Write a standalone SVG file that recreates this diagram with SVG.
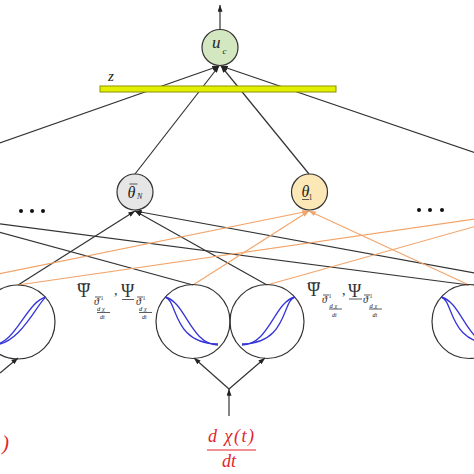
<svg xmlns="http://www.w3.org/2000/svg" width="474" height="474" viewBox="0 0 474 474">
<style>
.bk{stroke:#333;stroke-width:1.2;fill:none}
.or{stroke:#f2a46a;stroke-width:1.1;fill:none}
.nd{stroke:#333;stroke-width:1.2}
.cv{stroke:#3535d8;stroke-width:1.3;fill:none}
.m{font-family:"Liberation Serif","DejaVu Serif",serif;font-style:italic;fill:#222}
.g{font-family:"Liberation Serif","DejaVu Serif",serif;fill:#333}
.r{font-family:"Liberation Serif","DejaVu Serif",serif;font-style:italic;fill:#e3242b}
.bar{stroke:#333;stroke-width:0.8}
</style>
<defs>
<marker id="ab" viewBox="0 0 8 6" refX="8" refY="3" markerWidth="7" markerHeight="5" markerUnits="userSpaceOnUse" orient="auto"><path d="M0,0 L8,3 L0,6 z" fill="#222"/></marker>
<marker id="ao" viewBox="0 0 8 6" refX="8" refY="3" markerWidth="7" markerHeight="5" markerUnits="userSpaceOnUse" orient="auto"><path d="M0,0 L8,3 L0,6 z" fill="#f2a46a"/></marker>
</defs>
<rect width="474" height="474" fill="#fff"/>
<g id="connectors">
<line class="bk" x1="220" y1="29" x2="220" y2="5" marker-end="url(#ab)"/>
<line class="bk" x1="-100" y1="178" x2="219" y2="66" marker-end="url(#ab)"/>
<line class="bk" x1="135" y1="174" x2="219" y2="66" marker-end="url(#ab)"/>
<line class="bk" x1="309" y1="174" x2="221" y2="66" marker-end="url(#ab)"/>
<line class="bk" x1="540" y1="175" x2="221" y2="66" marker-end="url(#ab)"/>
<line class="bk" x1="18" y1="285" x2="135" y2="211" marker-end="url(#ab)"/>
<line class="bk" x1="267" y1="285" x2="135" y2="211" marker-end="url(#ab)"/>
<line class="bk" x1="541" y1="285" x2="135" y2="211" marker-end="url(#ab)"/>
<line class="bk" x1="193" y1="285" x2="-60" y2="216"/>
<line class="bk" x1="469" y1="285" x2="-60" y2="216"/>
<line class="or" x1="-56" y1="285" x2="309" y2="211" marker-end="url(#ao)"/>
<line class="or" x1="193" y1="285" x2="309" y2="211" marker-end="url(#ao)"/>
<line class="or" x1="469" y1="285" x2="309" y2="211" marker-end="url(#ao)"/>
<line class="or" x1="18" y1="285" x2="530" y2="211"/>
<line class="or" x1="267" y1="285" x2="530" y2="211"/>
<line class="bk" x1="229" y1="416" x2="229" y2="389" marker-end="url(#ab)"/>
<line class="bk" x1="229" y1="389" x2="194" y2="358" marker-end="url(#ab)"/>
<line class="bk" x1="229" y1="389" x2="265" y2="358" marker-end="url(#ab)"/>
<line class="bk" x1="0" y1="373" x2="18" y2="358" marker-end="url(#ab)"/>
</g>
<g id="z-bar">
<rect x="100" y="86" width="236" height="6" fill="#e2f000" stroke="#8f9200" stroke-width="1"/>
<text class="m" x="108" y="81" font-size="15">z</text>
</g>
<g id="uc">
<circle class="nd" cx="220" cy="47.5" r="18" fill="#d3e8c0"/>
<text class="m" x="212" y="48" font-size="17">u</text>
<text class="m" x="222.5" y="54" font-size="9">c</text>
</g>
<g id="thetaN">
<circle class="nd" cx="135" cy="192" r="18" fill="#e6e6e6"/>
<text class="m" x="127.5" y="198" font-size="16">θ</text>
<line class="bar" x1="129.5" y1="184" x2="137.5" y2="184"/>
<text class="m" x="137" y="199" font-size="8">N</text>
</g>
<g id="theta1">
<circle class="nd" cx="309.5" cy="192" r="18" fill="#fbe8b6"/>
<text class="m" x="301.5" y="197" font-size="16">θ</text>
<line class="bar" x1="302" y1="199.5" x2="309" y2="199.5"/>
<text class="g" x="308.5" y="200" font-size="8">1</text>
</g>
<g id="dots">
<circle cx="21" cy="211" r="2" fill="#111"/><circle cx="32" cy="211" r="2" fill="#111"/><circle cx="43" cy="211" r="2" fill="#111"/>
<circle cx="419" cy="210" r="2" fill="#111"/><circle cx="430" cy="210" r="2" fill="#111"/><circle cx="442" cy="210" r="2" fill="#111"/>
</g>
<g id="fuzzy-left">
<circle class="nd" cx="18" cy="322" r="37" fill="none"/>
<path class="cv" d="M-7,345 C16,344 26,302 46,297"/>
<path class="cv" d="M-7,345 C20,345 38,302 46,297"/>
</g>
<g id="fuzzy-mid-left">
<circle class="nd" cx="193" cy="321.5" r="37" fill="none"/>
<path class="cv" d="M165,297 C178,300 172,344 218,344"/>
<path class="cv" d="M165,297 C186,302 190,344 218,345"/>
</g>
<g id="fuzzy-mid-right">
<circle class="nd" cx="267" cy="321.5" r="37" fill="none"/>
<path class="cv" d="M242,344 C288,344 282,300 295,297"/>
<path class="cv" d="M242,345 C270,344 274,302 295,297"/>
</g>
<g id="fuzzy-right">
<circle class="nd" cx="469" cy="321.5" r="37" fill="none"/>
<path class="cv" d="M441,297 C454,300 448,344 494,344"/>
<path class="cv" d="M441,297 C462,302 466,344 494,345"/>
</g>
<g id="label-left">
<text class="g" x="77" y="297" font-size="18">Ψ</text>
<line class="bar" x1="78.5" y1="283.5" x2="90" y2="283.5"/>
<text class="m" x="94" y="305" font-size="10">ϑ</text>
<line class="bar" x1="95" y1="297" x2="101" y2="297" stroke-width="0.6"/>
<text class="g" x="100.5" y="300" font-size="6">1</text>
<text class="m" x="97" y="310.5" font-size="6.5">d χ</text>
<line class="bar" x1="97" y1="312.5" x2="110" y2="312.5" stroke-width="0.5"/>
<text class="m" x="100" y="318.5" font-size="6">dt</text>
<text class="g" x="114" y="295" font-size="14">,</text>
<text class="g" x="121" y="297" font-size="18">Ψ</text>
<line class="bar" x1="122" y1="299.5" x2="134" y2="299.5"/>
<text class="m" x="136" y="305" font-size="10">ϑ</text>
<line class="bar" x1="137" y1="297" x2="143" y2="297" stroke-width="0.6"/>
<text class="g" x="142.5" y="300" font-size="6">1</text>
<text class="m" x="139" y="310.5" font-size="6.5">d χ</text>
<line class="bar" x1="139" y1="312.5" x2="152" y2="312.5" stroke-width="0.5"/>
<text class="m" x="142" y="318.5" font-size="6">dt</text>
</g>
<g id="label-right">
<text class="g" x="307" y="296" font-size="18">Ψ</text>
<line class="bar" x1="308.5" y1="282.5" x2="320" y2="282.5"/>
<text class="m" x="322" y="303" font-size="10">ϑ</text>
<line class="bar" x1="323" y1="295" x2="329" y2="295" stroke-width="0.6"/>
<text class="g" x="328.5" y="298" font-size="6">1</text>
<text class="m" x="329.5" y="307.5" font-size="6.5">d χ</text>
<line class="bar" x1="329" y1="309" x2="342" y2="309" stroke-width="0.5"/>
<text class="m" x="332" y="317" font-size="6">dt</text>
<text class="g" x="342" y="295" font-size="14">,</text>
<text class="g" x="348" y="297" font-size="18">Ψ</text>
<line class="bar" x1="349" y1="299" x2="362" y2="299"/>
<text class="m" x="363" y="303" font-size="10">ϑ</text>
<line class="bar" x1="364" y1="295" x2="370" y2="295" stroke-width="0.6"/>
<text class="g" x="369.5" y="298" font-size="6">1</text>
<text class="m" x="369.5" y="307.5" font-size="6.5">d χ</text>
<line class="bar" x1="369" y1="309" x2="382" y2="309" stroke-width="0.5"/>
<text class="m" x="372.5" y="317" font-size="6">dt</text>
</g>
<g id="input-dchi">
<text class="r" x="208" y="442" font-size="18" letter-spacing="1.5">d χ(t)</text>
<line x1="207" y1="450" x2="256" y2="450" stroke="#e3242b" stroke-width="1.2"/>
<text class="r" x="222" y="467" font-size="18">dt</text>
</g>
<g id="input-left">
<text class="r" x="2" y="450" font-size="21">)</text>
</g>
</svg>
